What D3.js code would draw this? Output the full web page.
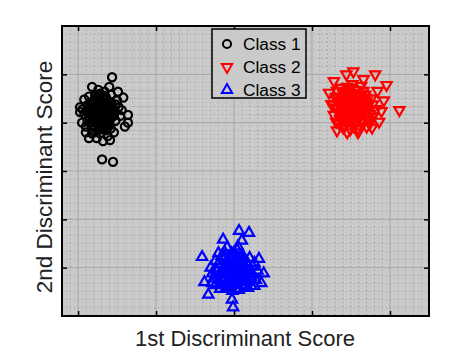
<!DOCTYPE html>
<html><head><meta charset="utf-8">
<script src="https://cdn.jsdelivr.net/npm/d3@7"></script>
<style>body{margin:0;background:#fff}svg{display:block}text{font-family:"Liberation Sans",Arial,sans-serif}</style>
</head><body><div id="chart"></div>
<script>
const classNames = ["Class 1","Class 2","Class 3"];
const xTicks = [-10,-5,0,5,10];
const yTicks = [-10,-5,0,5,10];
const class1 = [[-8.6,5.9],[-8.3,6.4],[-8.9,5.2],[-8.1,5.5],[-9.1,6.3],[-8.5,7.1],[-8.7,4.6],[-8.0,6.8],[-9.3,5.6],[-8.4,4.9],
[-8.8,6.9],[-7.8,6.1],[-9.0,4.3],[-8.2,7.6],[-9.4,6.8],[-7.6,5.2],[-8.6,3.9],[-8.9,7.8],[-7.9,4.4],[-9.2,5.0],
[-8.3,8.2],[-7.4,6.6],[-9.6,5.9],[-8.1,3.6],[-8.7,8.4],[-7.5,7.3],[-9.5,4.6],[-8.0,5.0],[-8.5,6.0],[-9.0,7.3],
[-7.7,4.0],[-8.8,3.4],[-7.3,5.7],[-9.3,7.7],[-8.2,4.2],[-8.6,7.5],[-7.9,7.9],[-9.1,3.9],[-8.4,5.6],[-7.6,6.9],
[-8.95,6.0],[-8.25,5.2],[-8.65,6.6],[-7.95,5.9],[-9.25,6.1],[-8.45,4.4],[-8.05,7.2],[-8.75,5.3],[-7.2,6.3],[-9.7,6.4],
[-7.82,9.7],[-8.46,1.2],[-7.76,0.95],[-9.87,6.6],[-9.87,6.1],[-9.74,5.0],[-6.8,5.8],[-6.8,5.0],[-7.44,8.2],[-9.1,8.7],
[-9.5,4.0],[-8.4,3.1],[-7.95,3.2],[-7.1,7.6],[-9.6,7.4],[-8.0,8.7],[-7.0,4.6],[-9.3,3.4],
[-8.7,5.6],[-8.4,6.2],[-8.9,6.5],[-8.2,5.9],[-8.6,5.0],[-8.5,6.9],[-9.0,5.8],[-8.1,6.5],[-8.8,4.9],[-8.3,5.3],
[-8.9,7.2],[-8.0,6.0],[-9.2,5.4],[-8.4,7.4],[-8.6,4.3],[-7.8,5.6],[-9.1,6.9],[-8.2,4.7],[-8.7,7.9],[-7.9,6.6],
[-9.3,6.5],[-8.5,5.4],[-8.3,7.0],[-8.8,6.3],[-8.0,4.8],[-8.6,8.0],[-9.4,5.2],[-7.7,5.8],[-8.2,6.9],[-8.9,4.5],
[-8.45,6.5],[-8.75,5.9],[-8.15,5.1],[-9.05,6.6],[-8.55,4.7],[-7.85,7.0],[-9.15,4.7],[-8.35,7.8],[-7.65,6.3],[-9.45,6.2],
[-8.5,5.8],[-8.7,6.2],[-8.3,5.7],[-8.9,5.5],[-8.4,6.7],[-8.6,5.3],[-8.2,6.2],[-8.8,6.1],[-8.5,4.9],[-8.6,7.2],
[-8.1,5.8],[-9.0,6.1],[-8.35,4.5],[-8.75,7.0],[-8.05,6.3]];
const class2 = [[7.5,6.8],[7.2,7.4],[7.9,6.3],[6.9,6.0],[8.2,7.1],[7.6,5.6],[7.0,8.0],[8.4,6.0],[6.7,7.0],[7.8,7.8],
[7.3,5.2],[8.6,6.8],[6.6,6.4],[7.4,8.4],[8.1,5.1],[6.8,5.4],[8.8,7.5],[7.7,4.8],[6.5,7.6],[8.3,8.3],
[7.1,4.7],[8.9,5.6],[6.4,5.8],[7.6,9.0],[8.5,4.6],[7.0,6.6],[8.0,6.7],[7.35,6.1],[7.85,5.9],[6.95,7.5],
[8.45,7.6],[7.55,7.3],[6.75,4.9],[8.7,4.9],[7.25,8.7],[8.15,8.8],[6.3,6.9],[9.1,6.4],[7.95,4.4],[7.45,4.3],
[6.6,8.3],[8.55,5.4],[7.15,5.6],[7.75,6.5],[8.25,6.3],
[7.2,10.0],[7.65,10.3],[9.05,10.0],[9.78,8.9],[9.2,8.3],[6.1,8.1],[6.25,6.9],[6.6,4.2],[7.25,4.0],[7.95,4.0],
[8.85,4.5],[9.3,5.1],[9.45,6.2],[10.6,6.3],[9.6,7.3],[6.4,9.3],[8.3,9.5],
[7.6,6.6],[7.3,6.9],[7.9,7.0],[7.1,6.3],[8.1,6.0],[7.5,5.9],[7.2,7.8],[8.3,6.6],[6.9,6.8],[7.7,7.5],
[7.4,5.5],[8.5,7.2],[6.8,7.3],[7.6,8.0],[8.0,5.4],[7.0,5.7],[8.6,6.2],[7.8,5.1],[6.7,6.1],[8.0,7.8],
[7.2,5.0],[8.7,5.9],[6.6,7.7],[7.5,8.6],[8.3,5.0],[7.1,7.0],[7.9,6.5],[7.4,6.4],[6.9,5.2],[8.2,8.0],
[7.7,4.6],[6.5,6.6],[8.4,7.9],[7.0,4.5],[7.35,7.7],[8.65,5.3],[6.85,8.6],[7.8,8.4],[6.55,5.1],[8.9,6.9],
[7.6,6.2],[7.4,7.1],[7.8,6.8],[7.2,6.6],[8.0,6.2],[7.5,5.3],[7.3,7.5],[8.2,6.9],[7.0,6.9],[7.7,7.2],
[7.9,5.7],[7.1,5.9],[8.4,6.4],[7.45,8.1],[8.1,7.5]];
const class3 = [[-0.1,-10.0],[0.3,-9.4],[-0.5,-10.6],[0.6,-10.3],[-0.8,-9.6],[0.0,-8.8],[-0.3,-11.2],[0.9,-9.8],[-1.1,-10.4],[0.4,-11.0],
[-0.6,-8.9],[1.2,-10.7],[-1.3,-11.1],[0.2,-8.2],[-0.2,-11.8],[0.8,-11.5],[-0.9,-11.7],[1.4,-11.3],[-1.5,-10.0],[0.5,-8.6],
[-0.4,-9.2],[1.0,-9.0],[-0.7,-10.1],[0.1,-10.5],[-1.0,-8.5],[0.7,-12.0],[-0.5,-12.1],[1.3,-9.5],[-1.2,-9.3],[0.0,-11.5],
[0.35,-10.0],[-0.35,-9.8],[0.55,-9.1],[-0.15,-8.5],[0.85,-10.6],[-0.85,-11.0],[0.25,-7.8],[-0.45,-7.9],[1.1,-11.9],[-1.4,-11.6],
[0.15,-12.2],[-0.65,-10.7],[0.65,-10.9],
[0.32,-6.2],[0.96,-6.4],[-0.7,-7.1],[-2.05,-8.9],[1.6,-9.1],[-1.65,-12.8],[-0.13,-13.3],[-0.06,-14.1],[1.9,-10.6],[1.75,-11.6],[-1.9,-11.5],[0.5,-7.2],
[-0.1,-10.3],[0.2,-9.8],[-0.4,-10.2],[0.4,-10.6],[-0.6,-9.9],[0.1,-9.2],[-0.2,-10.9],[0.7,-10.1],[-0.9,-10.7],[0.3,-11.3],
[-0.3,-9.5],[1.0,-10.4],[-1.0,-11.3],[0.0,-8.5],[-0.4,-11.5],[0.6,-11.2],[-0.7,-11.4],[1.1,-11.0],[-1.2,-10.2],[0.4,-8.9],
[-0.2,-9.0],[0.8,-9.4],[-0.5,-10.4],[0.2,-10.8],[-0.8,-8.8],[0.5,-11.8],[-0.3,-12.0],[1.2,-9.9],[-1.0,-9.6],[0.1,-11.7],
[-1.2,-11.8],[0.9,-12.1],[-0.1,-12.4],[1.3,-11.9],[-1.4,-10.6],[0.6,-9.6],[-0.6,-8.4],[0.3,-12.3],[-0.9,-12.2],[1.5,-10.3],
[0.0,-10.1],[0.3,-10.3],[-0.3,-10.6],[0.2,-9.6],[-0.5,-9.7],[0.5,-10.0],[-0.1,-11.0],[0.6,-10.8],[-0.7,-10.4],[0.1,-11.4],
[-0.2,-9.3],[0.8,-11.2],[-0.8,-11.1],[0.2,-8.9],[-0.4,-11.9]];
const colors = ["#000000","#ff0000","#0000ff"];

const W=474,H=355;
const L=62,R=429,T=26,B=316;
const svg=d3.select("#chart").append("svg").attr("width",W).attr("height",H);
const x=d3.scaleLinear().domain([-11.03,12.5]).range([L,R]);
const y=d3.scaleLinear().domain([-15,15]).range([B,T]);

svg.append("rect").attr("x",L).attr("y",T).attr("width",R-L).attr("height",B-T).attr("fill","#cacaca");

// minor grid
const xMinor=d3.range(-11,12.6,0.5).filter(v=>v>x.domain()[0]&&v<x.domain()[1]&&Math.abs(v%5)>1e-6);
const yMinor=d3.range(-15,15.01,5/6).filter(v=>v>-15+1e-6&&v<15-1e-6);
const g=svg.append("g");
g.selectAll(".mx").data(xMinor).join("line").attr("x1",d=>x(d)).attr("x2",d=>x(d)).attr("y1",T).attr("y2",B)
 .attr("stroke","#9a9a9a").attr("stroke-width",1).attr("stroke-dasharray","1,3");
g.selectAll(".my").data(yMinor.filter(v=>!yTicks.some(t=>Math.abs(t-v)<1e-6))).join("line").attr("y1",d=>y(d)).attr("y2",d=>y(d)).attr("x1",L).attr("x2",R)
 .attr("stroke","#9a9a9a").attr("stroke-width",1).attr("stroke-dasharray","1,3");
// major grid
g.selectAll(".gx").data(xTicks).join("line").attr("x1",d=>x(d)).attr("x2",d=>x(d)).attr("y1",T).attr("y2",B)
 .attr("stroke","#a6a6a6").attr("stroke-width",1);
g.selectAll(".gy").data(yTicks).join("line").attr("y1",d=>y(d)).attr("y2",d=>y(d)).attr("x1",L).attr("x2",R)
 .attr("stroke","#a6a6a6").attr("stroke-width",1);

// points
const circ=d3.symbol().type(d3.symbolCircle).size(52);
const tri=d3.symbol().type(d3.symbolTriangle).size(46);
svg.append("g").selectAll("path").data(class1).join("path").attr("d",circ)
 .attr("transform",d=>`translate(${x(d[0])},${y(d[1])})`).attr("fill","none").attr("stroke",colors[0]).attr("stroke-width",2.2);
svg.append("g").selectAll("path").data(class2).join("path").attr("d",tri)
 .attr("transform",d=>`translate(${x(d[0])},${y(d[1])}) rotate(180)`).attr("fill","none").attr("stroke",colors[1]).attr("stroke-width",2.2);
svg.append("g").selectAll("path").data(class3).join("path").attr("d",tri)
 .attr("transform",d=>`translate(${x(d[0])},${y(d[1])})`).attr("fill","none").attr("stroke",colors[2]).attr("stroke-width",2.2);

// axes (ticks inward, all sides, no labels)
const tk=5;
svg.append("g").attr("transform",`translate(0,${B})`).call(d3.axisBottom(x).tickValues(xTicks).tickSize(-tk).tickFormat(""))
 .call(a=>a.select(".domain").remove());
svg.append("g").attr("transform",`translate(0,${T})`).call(d3.axisTop(x).tickValues(xTicks).tickSize(-tk).tickFormat(""))
 .call(a=>a.select(".domain").remove());
svg.append("g").attr("transform",`translate(${L},0)`).call(d3.axisLeft(y).tickValues(yTicks).tickSize(-tk).tickFormat(""))
 .call(a=>a.select(".domain").remove());
svg.append("g").attr("transform",`translate(${R},0)`).call(d3.axisRight(y).tickValues(yTicks).tickSize(-tk).tickFormat(""))
 .call(a=>a.select(".domain").remove());
svg.selectAll(".tick line").attr("stroke","#000").attr("stroke-width",1.5);
svg.append("rect").attr("x",L).attr("y",T).attr("width",R-L).attr("height",B-T).attr("fill","none").attr("stroke","#000").attr("stroke-width",2);

// legend
const lg=svg.append("g");
lg.append("rect").attr("x",212).attr("y",29).attr("width",94).attr("height",69).attr("fill","#cacaca").attr("stroke","#000").attr("stroke-width",1.5);
classNames.forEach((n,i)=>{
  const cy=44+i*23;
  const p=lg.append("path").attr("d",i===0?circ:tri).attr("fill","none").attr("stroke",colors[i]).attr("stroke-width",2);
  p.attr("transform",`translate(227,${cy})`+(i===1?" rotate(180)":""));
  lg.append("text").attr("x",243).attr("y",cy+6).attr("font-size",17.3).attr("fill","#000").text(n);
});

svg.append("text").attr("x",245).attr("y",346).attr("text-anchor","middle").attr("font-size",22).attr("fill","#222").text("1st Discriminant Score");
svg.append("text").attr("transform","translate(52,177) rotate(-90)").attr("text-anchor","middle").attr("font-size",22.5).attr("fill","#222").text("2nd Discriminant Score");
</script></body></html>
